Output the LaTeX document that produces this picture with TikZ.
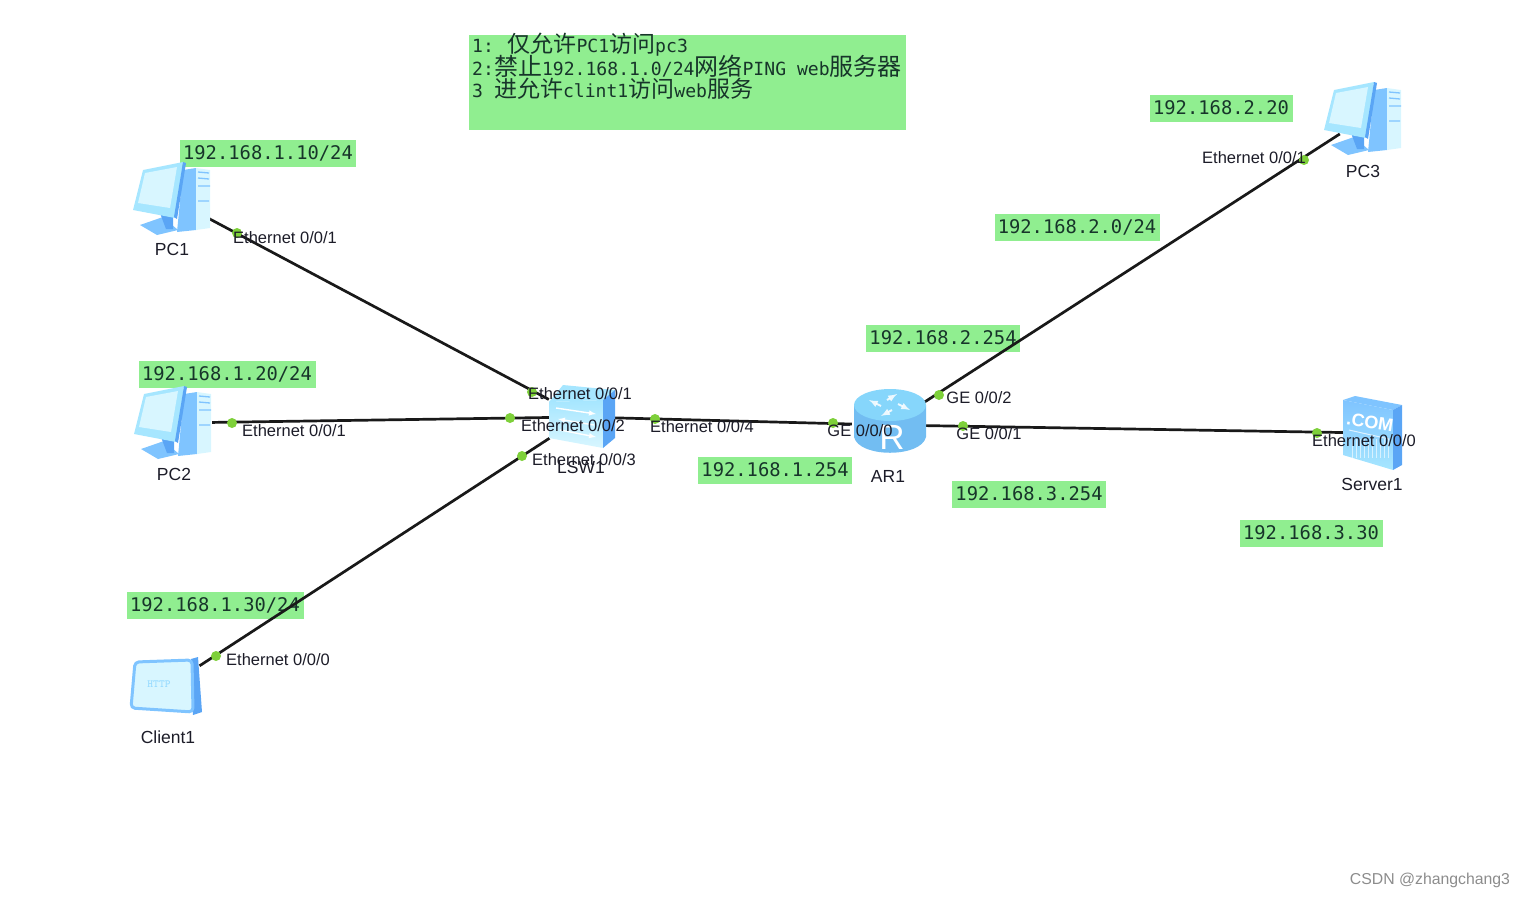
\documentclass[tikz,border=0pt]{standalone}
\usepackage{fontspec}
\setmainfont{Liberation Sans}
\newfontfamily\cjkf{Noto Sans CJK SC}
\newfontfamily\monof{DejaVu Sans Mono}
\definecolor{lblgreen}{HTML}{90EE90}
\definecolor{dotgreen}{HTML}{7ED03A}
\definecolor{monoink}{HTML}{17352A}
\definecolor{iconlight}{HTML}{D8F6FF}
\definecolor{iconmid}{HTML}{A6E6FF}
\definecolor{iconblue}{HTML}{7FC4FF}
\definecolor{icondeep}{HTML}{5AA5F5}
\definecolor{routertop}{HTML}{86D6FB}
\definecolor{routerbody}{HTML}{72BDF2}
\definecolor{labelink}{HTML}{1C1C28}
\newcommand{\cjsz}{23}
\newcommand{\cj}[1]{{\cjkf\fontsize{\cjsz}{22.7}\selectfont #1}}
\tikzset{
  link/.style={line width=2.7pt,draw=black!90},
  portdot/.style={circle,fill=dotgreen,inner sep=0pt,minimum size=10pt},
  portlabel/.style={text=labelink,font=\fontsize{16.5}{18}\selectfont,inner sep=0pt},
  devlabel/.style={text=labelink,font=\fontsize{17.5}{19}\selectfont,inner sep=0pt},
  iplabel/.style={fill=lblgreen,text=monoink,font=\monof\fontsize{18.8}{20}\selectfont,inner sep=0pt,minimum height=27pt},
  pics/pcicon/.style={code={
    % tower
    \fill[iconblue] (11,-29) -- (24,-31) -- (24,31) -- (5,33) -- cycle;
    \fill[iconlight] (24,-31) -- (38,-29) -- (38,29) -- (24,31) -- cycle;
    \draw[iconblue,line width=1.3pt] (26,-27) -- (37,-26) (26,-21) -- (37,-20) (26,-13) -- (38,-13) (26,2) -- (37,2);
    % base
    \fill[iconblue] (-32,26) -- (-9,18) -- (6,31) -- (-15,36) -- cycle;
    \fill[icondeep] (-12,14) -- (1,17) -- (1,30) -- (-6,30) -- cycle;
    % monitor
    \fill[iconmid] (-29,-29) -- (11,-37) -- (3,19) -- (-39,11) -- cycle;
    \fill[iconlight] (-27,-26) -- (5,-32) -- (-2,9) -- (-34,4) -- cycle;
    \fill[icondeep] (11,-37) -- (14,-36) -- (5,20) -- (2,18) -- cycle;
  }},
  pics/switchicon/.style={code={
    \fill[iconmid] (-33,-15) -- (-19,-32) -- (33,-27) -- (21,-17) -- cycle;
    \shade[top color=iconmid,bottom color=iconlight] (-33,-15) -- (21,-17) -- (21,31) -- (-33,21) -- cycle;
    \fill[icondeep] (21,-17) -- (33,-27) -- (33,21) -- (21,31) -- cycle;
    \draw[white,line width=1.4pt,-latex] (-26,-9) -- (14,-3);
    \draw[white,line width=1.4pt,latex-] (-24,2) -- (12,8);
    \draw[white,line width=1.4pt,-latex] (-22,13) -- (14,20);
  }},
  pics/routericon/.style={code={
    \fill[routerbody] (-35,-17) -- (-35,15) .. controls (-30,36) and (32,36) .. (37,15) -- (37,-17) -- cycle;
    \fill[routertop] (1,-17) ellipse[x radius=36,y radius=16];
    \draw[white,line width=2pt,opacity=.85,-latex] (-8,-16) -- (-20,-22);
    \draw[white,line width=2pt,opacity=.85,-latex] (9,-18) -- (21,-12);
    \draw[white,line width=2pt,opacity=.85,-latex] (-2,-22) -- (8,-28);
    \draw[white,line width=2pt,opacity=.85,-latex] (3,-12) -- (-8,-6);
    \node[white,font=\fontsize{35}{35}\selectfont,inner sep=0pt] at (3,15) {R};
  }},
  pics/servericon/.style={code={
    \fill[iconblue] (-29,-33) -- (-17,-37) -- (30,-28) -- (21,-23) -- cycle;
    \shade[top color=iconblue,bottom color=iconmid] (-29,-33) -- (21,-23) -- (21,37) -- (-29,22) -- cycle;
    \fill[icondeep] (21,-23) -- (30,-28) -- (30,32) -- (21,37) -- cycle;
    \node[white,font=\bfseries\fontsize{18}{18}\selectfont,inner sep=0pt,rotate=-9] at (-2,-11) {.COM};
    \draw[white,opacity=.7,line width=1pt] (-23,-3) -- (17,6);
    \foreach \xx in {-20,-16,...,16}{\draw[white,opacity=.6,line width=.8pt] (\xx,6) -- (\xx,25);}
  }},
  pics/clienticon/.style={code={
    \fill[icondeep] (24,-28) -- (31,-30) -- (35,25) -- (26,28) -- cycle;
    \fill[iconlight,draw=iconblue,line width=3pt,rounded corners=4pt] (-32,-25) -- (25,-27) -- (26,25) -- (-36,21) -- cycle;
    \node[iconmid!70!iconblue,font=\ttfamily\bfseries\fontsize{11}{11}\selectfont,inner sep=0pt] at (-8,-3) {HTTP};
  }}
}
\begin{document}
\begin{tikzpicture}[x=1pt,y=-1pt]
\useasboundingbox (0,0) rectangle (1525,898);
% device anchors
\node[inner sep=0pt,minimum width=74pt,minimum height=40pt] (PC1) at (172,199) {};
\node[inner sep=0pt,minimum width=78pt,minimum height=40pt] (PC2) at (173,423) {};
\node[inner sep=0pt,minimum width=66pt,minimum height=42pt] (Client1) at (167,687) {};
\node[inner sep=0pt,minimum width=66pt,minimum height=42pt] (LSW1) at (582,417) {};
\node[inner sep=0pt,minimum width=74pt,minimum height=44pt] (AR1) at (889,425) {};
\node[inner sep=0pt,minimum width=46pt,minimum height=38pt] (PC3) at (1363,119) {};
\node[inner sep=0pt,minimum width=58pt,minimum height=40pt] (Server1) at (1372,433) {};
% labels with green ground, under the links
\node[iplabel,minimum width=176pt] (ip1) at (268,153) {192.168.1.10/24};
\node[iplabel,minimum width=177pt] (ip2) at (227,374) {192.168.1.20/24};
\node[iplabel,minimum width=177pt] (ip3) at (215,605) {192.168.1.30/24};
\node[iplabel,minimum width=143pt] (ip4) at (1221,108) {192.168.2.20};
\node[iplabel,minimum width=165pt] (ip5) at (1077,227) {192.168.2.0/24};
\node[iplabel,minimum width=154pt] (ip6) at (943,338) {192.168.2.254};
\node[iplabel,minimum width=154pt] (ip7) at (775,470) {192.168.1.254};
\node[iplabel,minimum width=154pt] (ip8) at (1029,494) {192.168.3.254};
\node[iplabel,minimum width=143pt] (ip9) at (1311,533) {192.168.3.30};
% note
\node[fill=lblgreen,inner sep=0pt,anchor=north west] (note) at (469,35) {\parbox[t][95pt][t]{437pt}{\monof\fontsize{18.1}{22.7}\selectfont\color{monoink}\lineskiplimit=-100pt\baselineskip=22.9pt\parindent=0pt
\vspace*{-2.5pt}\par
\leavevmode\kern3pt 1: \kern-1pt\cj{仅允许}PC1\cj{访问}pc3\par
\renewcommand{\cjsz}{24}%
\leavevmode\kern3pt 2:\cj{禁止}192.168.1.0/24\cj{网络}PING web\cj{服务器}\par
\renewcommand{\cjsz}{23}%
\leavevmode\kern3pt 3 \cj{进允许}clint1\cj{访问}web\cj{服务}\par}};
% links
\draw[link] (PC1) -- (LSW1);
\draw[link] (PC2) -- (LSW1);
\draw[link] (Client1) -- (LSW1);
\draw[link] (LSW1) -- (AR1);
\draw[link] (AR1) -- (PC3);
\draw[link] (AR1) -- (Server1);
% icons
\pic at (PC1) {pcicon};
\pic at (PC2) {pcicon};
\pic at (1363,119) {pcicon};
\pic at (582,417) {switchicon};
\pic at (889,422) {routericon};
\pic at (1372,433) {servericon};
\pic at (167,687) {clienticon};
% port dots
\node[portdot] (d1) at (237,233) {};
\node[portdot] (d2) at (232,423) {};
\node[portdot] (d3) at (216,656) {};
\node[portdot] (d4) at (532,392) {};
\node[portdot] (d5) at (510,418) {};
\node[portdot] (d6) at (522,456) {};
\node[portdot] (d7) at (655,419) {};
\node[portdot] (d8) at (833,423) {};
\node[portdot] (d9) at (939,395) {};
\node[portdot] (d10) at (963,426) {};
\node[portdot] (d11) at (1304,160) {};
\node[portdot] (d12) at (1317,433) {};
% device names
\node[devlabel] (n1) at (172,249) {PC1};
\node[devlabel] (n2) at (174,474) {PC2};
\node[devlabel] (n3) at (168,737) {Client1};
\node[devlabel] (n4) at (581,467) {LSW1};
\node[devlabel] (n5) at (888,476) {AR1};
\node[devlabel] (n6) at (1363,171) {PC3};
\node[devlabel] (n7) at (1372,484) {Server1};
% port names
\node[portlabel] (p1) at (285,238) {Ethernet 0/0/1};
\node[portlabel] (p2) at (294,431) {Ethernet 0/0/1};
\node[portlabel] (p3) at (278,660) {Ethernet 0/0/0};
\node[portlabel] (p4) at (580,394) {Ethernet 0/0/1};
\node[portlabel] (p5) at (573,426) {Ethernet 0/0/2};
\node[portlabel] (p6) at (584,460) {Ethernet 0/0/3};
\node[portlabel] (p7) at (702,427) {Ethernet 0/0/4};
\node[portlabel] (p8) at (860,431) {GE 0/0/0};
\node[portlabel] (p9) at (979,398) {GE 0/0/2};
\node[portlabel] (p10) at (989,434) {GE 0/0/1};
\node[portlabel] (p11) at (1254,158) {Ethernet 0/0/1};
\node[portlabel] (p12) at (1364,441) {Ethernet 0/0/0};
% watermark
\node[text=black!45,font=\fontsize{15.8}{18}\selectfont,inner sep=0pt] (wm) at (1430,880) {CSDN @zhangchang3};
\end{tikzpicture}
\end{document}
